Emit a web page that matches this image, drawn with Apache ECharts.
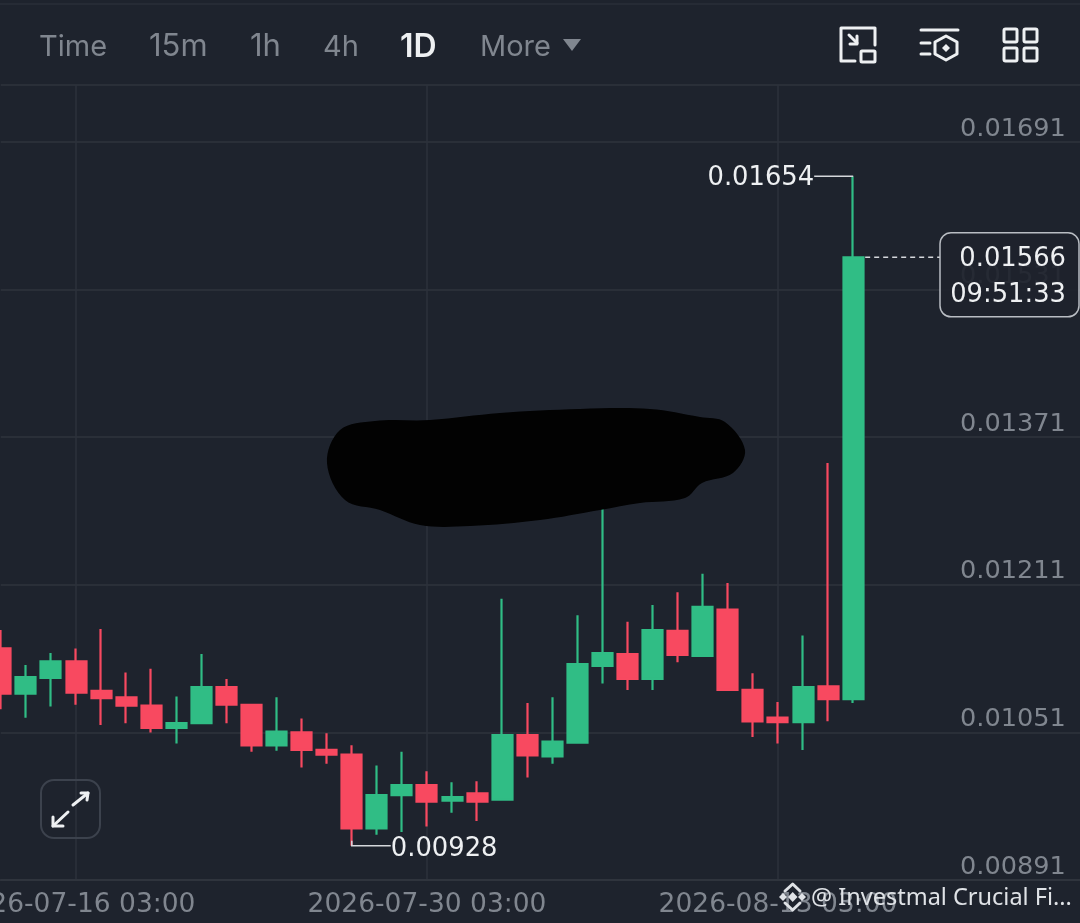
<!DOCTYPE html>
<html><head><meta charset="utf-8">
<style>html,body{margin:0;padding:0;background:#1e232d;overflow:hidden}#c{width:1080px;height:923px}</style>
<script src="https://cdn.jsdelivr.net/npm/echarts@6/dist/echarts.min.js"></script>
</head><body><div id="c"></div>
<script>
const categories = ['2026-07-13 03:00','2026-07-14 03:00','2026-07-15 03:00','2026-07-16 03:00','2026-07-17 03:00','2026-07-18 03:00','2026-07-19 03:00','2026-07-20 03:00','2026-07-21 03:00','2026-07-22 03:00','2026-07-23 03:00','2026-07-24 03:00','2026-07-25 03:00','2026-07-26 03:00','2026-07-27 03:00','2026-07-28 03:00','2026-07-29 03:00','2026-07-30 03:00','2026-07-31 03:00','2026-08-01 03:00','2026-08-02 03:00','2026-08-03 03:00','2026-08-04 03:00','2026-08-05 03:00','2026-08-06 03:00','2026-08-07 03:00','2026-08-08 03:00','2026-08-09 03:00','2026-08-10 03:00','2026-08-11 03:00','2026-08-12 03:00','2026-08-13 03:00','2026-08-14 03:00','2026-08-15 03:00','2026-08-16 03:00','2026-08-17 03:00','2026-08-18 03:00','2026-08-19 03:00','2026-08-20 03:00','2026-08-21 03:00','2026-08-22 03:00','2026-08-23 03:00','2026-08-24 03:00','2026-08-25 03:00','2026-08-26 03:00'];
const opens  = [.01142,.01093,.01110,.01128,.01096,.01089,.01080,.01056,.01061,.01100,.01081,.01037,.01051,.01032,.01027,.00947,.00983,.00994,.00977,.00985,.00978,.01048,.01025,.01040,.01123,.01136,.01109,.01161,.01134,.01184,.01097,.01067,.01062,.01101,.01087];
const closes = [.01093,.01111,.01128,.01094,.01088,.01080,.01056,.01061,.01100,.01081,.01037,.01052,.01032,.01027,.00947,.00983,.00994,.00976,.00981,.00976,.01048,.01026,.01041,.01125,.01137,.01109,.01162,.01135,.01187,.01097,.01063,.01062,.01100,.01087,.01566];
const lows   = [.01076,.01067,.01079,.01081,.01059,.01061,.01051,.01039,.01060,.01061,.01030,.01031,.01013,.01017,.00928,.00940,.00943,.00949,.00964,.00955,.00977,.01002,.01017,.01040,.01104,.01097,.01097,.01127,.01133,.01096,.01046,.01039,.01032,.01063,.01083];
const highs  = [.01162,.01124,.01137,.01142,.01163,.01116,.01120,.01090,.01136,.01109,.01081,.01089,.01066,.01050,.01037,.01015,.01030,.01009,.00997,.00998,.01196,.01083,.01089,.01178,.01320,.01171,.01189,.01203,.01223,.01213,.01115,.01084,.01156,.01343,.01654];
const yTickLabels = [0.00891,0.01051,0.01211,0.01371,0.01531,0.01691];
const yMin = 0.00891, yMax = 0.017528;
const highMark = {index:34, price:0.01654};
const lowMark  = {index:14, price:0.00928};
const lastMark = {index:34, price:0.01566, countdown:'09:51:33'};
const toolbarItems = [['Time',39,false,29],['15m',149,false,31],['1h',250,false,31],['4h',323,false,29],['1D',400,true,32],['More',480,false,29]];

const FONT='Inter', NUM='"DejaVu Sans"', GRAY='#80868f', WHITE='#eef0f2', LINE='#2f343d', GREEN='#30bd85', RED='#f84960';
const candleData = opens.map((o,i)=>[o,closes[i],lows[i],highs[i]]);
const ann = [{k:'high',...highMark},{k:'low',...lowMark},{k:'last',...lastMark}];

function stroke(points,w,c,extra){return Object.assign({type:'polyline',shape:{points},style:{stroke:c||WHITE,lineWidth:w||3,fill:null,lineCap:'round',lineJoin:'round'},silent:true,z:50},extra||{});}
function rrect(x,y,w,h,r,lw,c){return {type:'rect',shape:{x,y,width:w,height:h,r},style:{stroke:c||WHITE,lineWidth:lw||3,fill:null},silent:true,z:50};}
const g=[];
toolbarItems.forEach(t=>g.push({type:'text',x:t[1],y:47,z:50,silent:true,style:{text:t[0],fill:t[2]?WHITE:GRAY,font:(t[2]?'600 ':'400 ')+t[3]+'px '+FONT,textAlign:'left',textVerticalAlign:'middle'}}));
g.push({type:'polygon',shape:{points:[[563,39],[581,39],[572,51]]},style:{fill:GRAY},silent:true,z:50});
g.push({type:'line',shape:{x1:0,y1:4,x2:1080,y2:4},style:{stroke:'#2a2f38',lineWidth:1.5},silent:true});
g.push(stroke([[855,61],[841,61],[841,28],[875,28],[875,45]]));
g.push(rrect(861,51,14,11,1));
g.push(stroke([[849,35],[857,43]]),stroke([[857,36],[857,44],[850,44]]));
g.push(stroke([[921,30],[958,30]]),stroke([[921,43],[930,43]]),stroke([[921,54],[930,54]]));
g.push({type:'polygon',shape:{points:[[946,36],[957,42],[957,54],[946,60],[935,54],[935,42]]},style:{stroke:WHITE,lineWidth:3,fill:null,lineJoin:'round'},silent:true,z:50});
g.push({type:'polygon',shape:{points:[[946,44],[950,48],[946,52],[942,48]]},style:{fill:WHITE},silent:true,z:50});
[[1004,29],[1024,29],[1004,48],[1024,48]].forEach(p=>g.push(rrect(p[0],p[1],13,13,1.5)));
g.push(rrect(41,780,59,58,13,2,'#3c424d'));
g.push(stroke([[73,805],[88,793]],3),stroke([[81,793],[88,793],[87,800]],3),stroke([[68,812],[53,826]],3),stroke([[53,817],[53,826],[63,826]],3));
g.push({type:'polygon',shape:{smooth:0.35,points:[[327,463],[340,430],[375,421],[430,420],[500,413],[580,409],[650,409],[700,417],[725,422],[745,450],[733,473],[702,483],[685,498],[640,503],[600,510],[540,520],[470,526],[420,525],[380,510],[345,500]]},style:{fill:'#020202'},silent:true,z:60});
const wm='#dfe2e6';
g.push(stroke([[785,891],[792.7,884],[800,891]],3,wm),stroke([[785,903],[792.7,910],[800,903]],3,wm));
g.push({type:'polygon',shape:{points:[[792.7,892],[797.5,897],[792.7,902],[788,897]]},style:{fill:wm},silent:true,z:50});
g.push({type:'polygon',shape:{points:[[783,893],[787,897],[783,901],[779,897]]},style:{fill:wm},silent:true,z:50});
g.push({type:'polygon',shape:{points:[[802,893],[806,897],[802,901],[798,897]]},style:{fill:wm},silent:true,z:50});
g.push({type:'text',x:811,y:898,z:50,silent:true,style:{text:'@ Investmal Crucial Fi...',fill:wm,font:'400 23.5px "Noto Sans"',textAlign:'left',textVerticalAlign:'middle'}});

function renderAnn(params,api){
  const a=ann[params.dataIndex], p=api.coord([a.index,a.price]), kids=[];
  const txt=(t,x,y,al)=>({type:'text',x,y,style:{text:t,fill:WHITE,font:'400 25.8px '+NUM,textAlign:al,textVerticalAlign:'middle'}});
  const ln=(pts,dash)=>({type:'polyline',shape:{points:pts},style:{stroke:'#d5d8dc',lineWidth:1.5,fill:null,lineDash:dash||null}});
  if(a.k==='high'){kids.push(ln([[p[0],p[1]],[p[0]-39,p[1]]]),txt(a.price.toFixed(5),p[0]-39,p[1]+2,'right'));}
  if(a.k==='low'){kids.push(ln([[p[0],p[1]-5],[p[0],p[1]],[p[0]+39,p[1]]]),txt(a.price.toFixed(5),p[0]+39,p[1]+3,'left'));}
  if(a.k==='last'){
    kids.push(ln([[p[0]+12,p[1]],[940,p[1]]],[5,4]));
    kids.push({type:'rect',shape:{x:940,y:p[1]-24.5,width:139,height:84,r:11},style:{fill:'rgba(30,35,45,0.92)',stroke:'#b9bdc3',lineWidth:1.5}});
    kids.push(txt(a.price.toFixed(5),1066,p[1]+2,'right'),txt(a.countdown,1066,p[1]+38,'right'));
  }
  return {type:'group',children:kids};
}

const chart=echarts.init(document.getElementById('c'),null,{renderer:'canvas'});
const tickFilter=i=>(i-3)%14===0;
chart.setOption({
  animation:false,backgroundColor:'#1e232d',
  grid:{left:0.8,top:85,width:1103.08,height:795,containLabel:false,outerBoundsMode:'none'},
  xAxis:{type:'category',data:categories,boundaryGap:false,
    axisLine:{show:true,lineStyle:{color:LINE,width:2}},axisTick:{show:false,interval:tickFilter},
    splitLine:{show:true,interval:tickFilter,lineStyle:{color:'#2d323b',width:1.5}},
    axisLabel:{interval:tickFilter,color:GRAY,fontFamily:NUM,fontSize:26.5,margin:12,hideOverlap:false}},
  yAxis:{type:'value',position:'right',min:yMin,max:yMax,scale:true,
    axisLine:{show:false},
    axisTick:{show:false,customValues:yTickLabels.concat([yMax])},
    splitLine:{show:true,lineStyle:{color:LINE,width:1.5}},
    axisLabel:{inside:true,customValues:yTickLabels,margin:38,color:GRAY,fontFamily:NUM,fontSize:25.6,verticalAlign:'bottom',lineHeight:26,padding:[0,0,0,0],formatter:v=>v.toFixed(5)}},
  graphic:g,
  series:[
   {type:'candlestick',data:candleData,barWidth:20.5,clip:false,z:3,
    itemStyle:{color:GREEN,color0:RED,borderColor:GREEN,borderColor0:RED,borderWidth:2.2}},
   {type:'custom',renderItem:renderAnn,clip:false,z:4,silent:true,data:ann.map(a=>[a.index,a.price]),encode:{x:0,y:1}}
  ]
});
</script></body></html>
